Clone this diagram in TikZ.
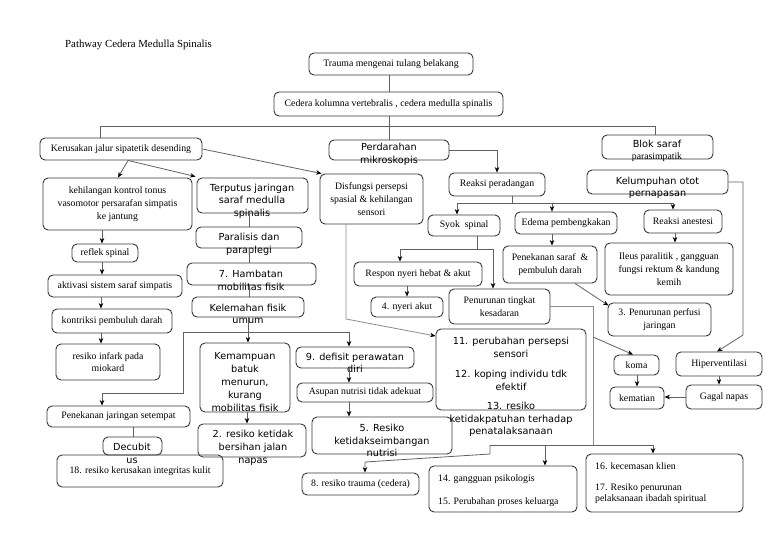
\documentclass[tikz,border=0pt]{standalone}
\usepackage{fontspec}
\setmainfont{Liberation Serif}
\newfontfamily\sansf{DejaVu Sans}
\usetikzlibrary{arrows.meta}
\tikzset{
  bxs/.style={draw=black!78, line width=0.9pt, rounded corners=5pt, inner sep=0pt},
  st/.style={font=\fontsize{9.8}{12.8}\selectfont, inner sep=0pt, align=center},
  ss/.style={font=\sansf\fontsize{9.7}{12.5}\selectfont, inner sep=0pt, align=center},
  ln/.style={draw=black!62, line width=0.8pt},
  ar/.style={ln, -{Stealth[length=5.5pt,width=4.5pt,color=black]}},
}
\newcommand\bx[7]{\node[bxs,#6,minimum width={(#4)-(#2)},minimum height={(#5)-(#3)}] (#1) at ({((#2)+(#4))/2},{((#3)+(#5))/2}) {#7};}
\begin{document}
\begin{tikzpicture}[x=1pt,y=-1pt]
\useasboundingbox[fill=white] (0,0) rectangle (768,543);
\node[anchor=west, font=\fontsize{10.8}{13}\selectfont, inner sep=0pt] (title) at (65,45) {Pathway Cedera Medulla Spinalis};

% boxes
\bx{trauma}{309}{53}{473}{75}{st}{Trauma mengenai tulang belakang}
\bx{cedera}{274}{92}{503}{116}{st}{Cedera kolumna vertebralis , cedera medulla spinalis}
\bx{kerusakan}{40}{138}{202}{160}{st}{Kerusakan jalur sipatetik desending}
\bx{perdarahan}{329}{140}{449}{160}{}{}
\bx{blok}{602}{135}{713}{159}{}{}
\bx{kelumpuhan}{587}{170}{728}{194}{}{}
\bx{reaksi}{449}{173}{545}{196}{st}{Reaksi peradangan}
\bx{kehilangan}{43}{178}{192}{230}{st}{kehilangan kontrol tonus\\vasomotor persarafan simpatis\\ke jantung}
\bx{terputus}{197}{178}{308}{213}{}{}
\bx{difungsi}{320}{174}{423}{224}{st}{Disfungsi persepsi\\spasial \& kehilangan\\sensori}
\bx{syok}{428}{215}{500}{236}{st}{Syok\ \ spinal}
\bx{edema}{515}{212}{617}{234}{st}{Edema pembengkakan}
\bx{anestesi}{644}{210}{722}{233}{st}{Reaksi anestesi}
\bx{paralisis}{196}{227}{302}{248}{}{}
\bx{reflek}{72}{244}{138}{262}{st}{reflek spinal}
\bx{penekanansaraf}{503}{246}{597}{283}{st}{Penekanan saraf\ \ \&\\pembuluh darah}
\bx{ileus}{605}{243}{733}{295}{st}{Ileus paralitik , gangguan\\fungsi rektum \& kandung\\kemih}
\bx{respon}{354}{262}{482}{286}{st}{Respon nyeri hebat \& akut}
\bx{hambatan}{187}{263}{316}{285}{}{}
\bx{aktivasi}{48}{275}{182}{297}{st}{aktivasi sistem saraf simpatis}
\bx{penurunan}{449}{289}{550}{324}{st}{Penurunan tingkat\\kesadaran}
\bx{nyeri}{371}{297}{443}{317}{st}{4. nyeri akut}
\bx{kelemahan}{192}{297}{304}{317}{}{}
\bx{perfusi}{608}{303}{711}{336}{st}{3. Penurunan perfusi\\jaringan}
\bx{kontriksi}{52}{309}{172}{333}{st}{kontriksi pembuluh darah}
\bx{bigbox}{436}{329}{586}{410}{}{}
\bx{infark}{56}{344}{160}{380}{st}{resiko infark pada\\miokard}
\bx{kemampuan}{200}{343}{290}{412}{}{}
\bx{defisit}{296}{347}{414}{368}{}{}
\bx{hiper}{676}{352}{762}{376}{st}{Hiperventilasi}
\bx{koma}{614}{355}{659}{375}{st}{koma}
\bx{asupan}{297}{383}{433}{402}{st}{Asupan nutrisi tidak adekuat}
\bx{gagal}{686}{385}{762}{409}{st}{Gagal napas}
\bx{kematian}{610}{387}{664}{409}{st}{kematian}
\bx{penekananjar}{47}{406}{190}{427}{st}{Penekanan jaringan setempat}
\bx{resikolima}{312}{417}{452}{454}{}{}
\bx{resikodua}{198}{424}{306}{457}{}{}
\bx{decubitus}{103}{437}{162}{455}{}{}
\bx{boxdelapanbelas}{57}{455}{223}{487}{st}{18. resiko kerusakan integritas kulit}
\bx{boxenambelas}{586}{454}{743}{512}{}{}
\bx{boxempatbelas}{429}{466}{577}{512}{}{}
\bx{boxdelapan}{302}{473}{419}{495}{st}{8. resiko trauma (cedera)}

% texts that run over their boxes
\node[ss] (tperdarahan) at (389,154.5) {Perdarahan\\mikroskopis};
\node[ss] (tblok) at (657,151) {Blok saraf\\{\rmfamily parasimpatik}};
\node[ss] (tkelumpuhan) at (657.5,188) {Kelumpuhan otot\\pernapasan};
\node[ss] (tterputus) at (252,201) {Terputus jaringan\\saraf medulla\\spinalis};
\node[ss] (tparalisis) at (249,244.5) {Paralisis dan\\paraplegi};
\node[ss] (thambatan) at (251,280.5) {7. Hambatan\\mobilitas fisik};
\node[ss] (tkelemahan) at (248,314) {Kelemahan fisik\\umum};
\node[ss] (tbigbox) at (511,387) {11. perubahan persepsi\\sensori\\[8pt]12. koping individu tdk\\efektif\\[7pt]13. resiko\\ketidakpatuhan terhadap\\penatalaksanaan};
\node[ss, font=\sansf\fontsize{9.7}{13}\selectfont] (tkemampuan) at (245,382) {Kemampuan\\batuk\\menurun,\\kurang\\mobilitas fisik};
\node[ss] (tdefisit) at (355,363) {9. defisit perawatan\\diri};
\node[ss] (tresikolima) at (382,440.5) {5. Resiko\\ketidakseimbangan\\nutrisi};
\node[ss, font=\sansf\fontsize{9.7}{13}\selectfont] (tresikodua) at (253,448) {2. resiko ketidak\\bersihan jalan\\napas};
\node[ss, font=\sansf\fontsize{9.7}{13}\selectfont] (tdecubitus) at (132,453.5) {Decubit\\us};
\node[st, anchor=base west] (t14) at (438,481) {14. gangguan psikologis};
\node[st, anchor=base west] (t15) at (438,504) {15. Perubahan proses keluarga};
\node[st, anchor=base west] (t16) at (595,469) {16. kecemasan klien};
\node[st, anchor=base west] (t17) at (595,490) {17. Resiko penurunan};
\node[st, anchor=base west] (t17b) at (595,501) {pelaksanaan ibadah spiritual};

% connectors: top
\coordinate (jtop) at (389,126);
\draw[ln] (389,0 |- trauma.south) -- (389,0 |- cedera.north);
\draw[ln] (389,0 |- cedera.south) -- (jtop);
\draw[ln] (100,0 |- kerusakan.north) -- (100,126) -- (655,126) -- (655,0 |- blok.north);
\draw[ln] (jtop) -- (389,0 |- perdarahan.north);

% kerusakan
\coordinate (jk) at (128,0 |- kerusakan.south);
\draw[ar] (jk) -- (118,0 |- kehilangan.north);
\draw[ar] (jk) -- ([shift={(-1,-1)}]terputus.north west);
\draw[ar] (kerusakan.east) -- ([shift={(2,0)}]difungsi.north west);

% perdarahan / reaksi
\draw[ar] (perdarahan.east) -- (497,0 |- perdarahan.east) -- (497,0 |- reaksi.north);
\coordinate (jr) at (512,203);
\draw[ln] (512,0 |- reaksi.south) -- (jr);
\draw[ar] (jr) -- (457,203) -- (457,0 |- syok.north);
\draw[ar] (jr) -- (673,203) -- (673,0 |- anestesi.north);
\draw[ar] (552,203) -- (552,0 |- edema.north);

% kelumpuhan
\draw[ar] (kelumpuhan.east) -- (743,0 |- kelumpuhan.east) -- (743,335) -- (717,0 |- hiper.north);

% edema, anestesi
\draw[ar] (552,0 |- edema.south) -- (552,0 |- penekanansaraf.north);
\draw[ar] (675,0 |- anestesi.south) -- (675,0 |- ileus.north);
\draw[ar] (575,0 |- penekanansaraf.south) -- ([shift={(1,3)}]perfusi.north west);

% syok
\coordinate (js) at (477,249);
\draw[ln] (477,0 |- syok.south) -- (js);
\draw[ar] (js) -- (400,249) -- (400,0 |- respon.north);
\draw[ar] (js) -- (493,249) -- (493,0 |- penurunan.north);
\draw[ar] (407,0 |- respon.south) -- (407,0 |- nyeri.north);

% difungsi
\draw[ar, draw=black!45] (346,0 |- difungsi.south) -- (346,319) -- (bigbox.west |- 0,336);

% penurunan
\coordinate (jp) at (593,445);
\draw[ln, draw=black!45] (penurunan.east) -- (593,0 |- penurunan.east) -- (jp);
\draw[ar] (593,337) -- (633,0 |- koma.north);
\draw[ln] (490,445) -- (653,445);
\draw[ar] (545,445) -- (545,0 |- boxempatbelas.north);
\draw[ar] (653,445) -- (653,0 |- boxenambelas.north);
\draw[ar] (490,445) -- (490,454) -- (365,462) -- (365,0 |- boxdelapan.north);

% lower right
\draw[ar] (637,0 |- koma.south) -- (637,0 |- kematian.north);
\draw[ar] (719,0 |- hiper.south) -- (719,0 |- gagal.north);
\draw[ar] (gagal.west) -- (gagal.west -| kematian.east);

% left column
\draw[ar] (102,0 |- kehilangan.south) -- (102,0 |- reflek.north);
\draw[ar] (102,0 |- reflek.south) -- (102,0 |- aktivasi.north);
\draw[ar] (101,0 |- aktivasi.south) -- (101,0 |- kontriksi.north);
\draw[ar] (101,0 |- kontriksi.south) -- (101,0 |- infark.north);

% middle column
\draw[ln] (249,0 |- terputus.south) -- (249,0 |- paralisis.north);
\draw[ln] (249,0 |- paralisis.south) -- (249,0 |- hambatan.north);
\draw[ln] (249,0 |- hambatan.south) -- (249,0 |- kelemahan.north);
\draw[ar] (248,0 |- kelemahan.south) -- (248,0 |- kemampuan.north);
\draw[ar] (183,332) -- (349,332) -- (349,0 |- defisit.north);
\draw[ar] (183,332) -- (183,393) -- (102,393) -- (102,0 |- penekananjar.north);
\draw[ar] (247,0 |- kemampuan.south) -- (247,0 |- resikodua.north);
\draw[ar] (349,0 |- defisit.south) -- (349,0 |- asupan.north);
\draw[ar] (349,0 |- asupan.south) -- (349,0 |- resikolima.north);
\draw[ln] (133,0 |- penekananjar.south) -- (133,0 |- decubitus.north);
\end{tikzpicture}
\end{document}
